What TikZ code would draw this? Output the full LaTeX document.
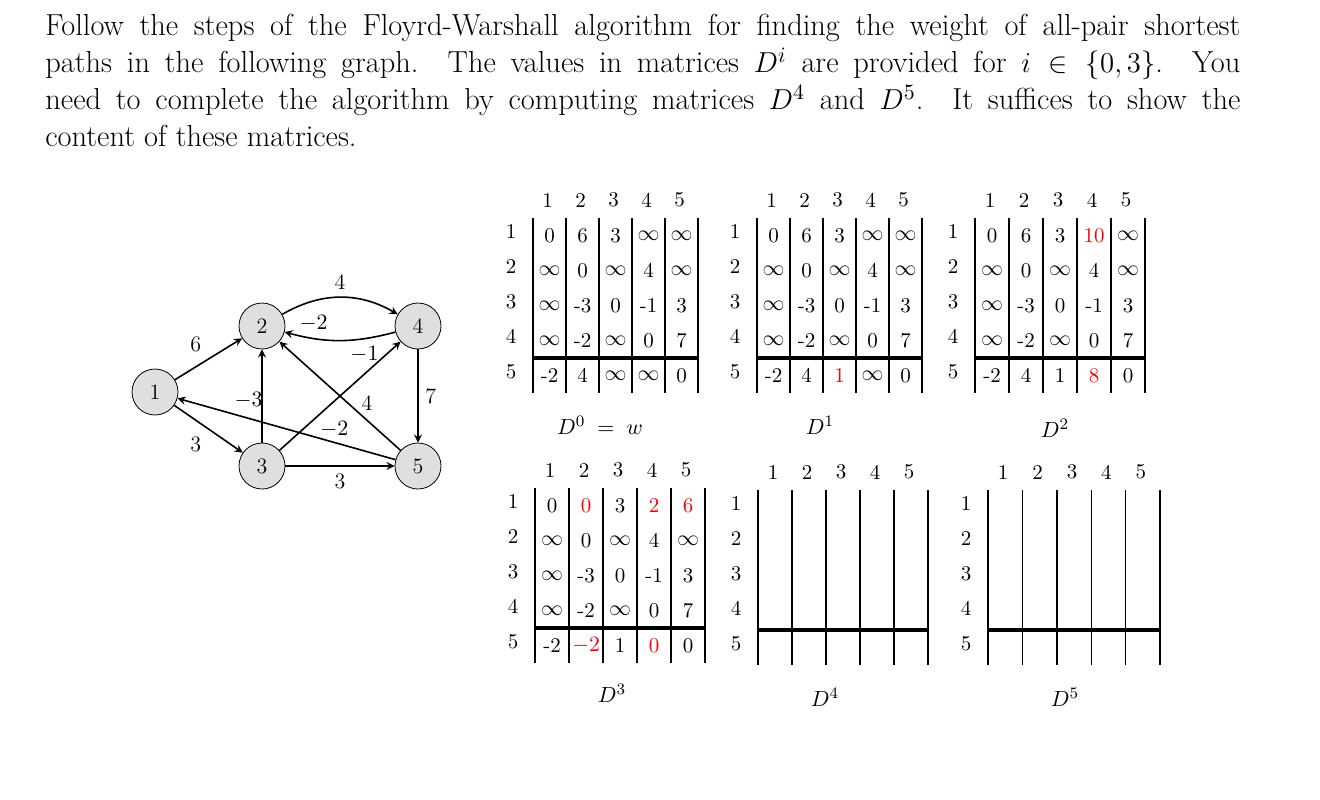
\documentclass[tikz,border=0pt]{standalone}
\usepackage{amsmath}
\begin{document}
\begin{tikzpicture}[x=0.5pt,y=-0.5pt,
  vert/.style={circle,draw,fill=gray!25,minimum size=23pt,inner sep=0pt,font=\fontsize{11}{13}\selectfont},
  edge/.style={-stealth,thick},
  elab/.style={font=\fontsize{11}{13}\selectfont},
  cell/.style={font=\fontsize{10.5}{12}\selectfont,inner sep=0pt},
  mcap/.style={font=\fontsize{11}{13}\selectfont}]
\useasboundingbox (0,0) rectangle (1320,799);
\node[anchor=north west,inner sep=0pt,text width=597.5pt,align=justify,font=\fontsize{15.2}{18.5}\selectfont] (txt) at (45,14)
{Follow the steps of the Floyrd-Warshall algorithm for finding the weight of all-pair shortest\linebreak
paths in the following graph. The values in matrices $D^i$ are provided for $i\in\{0,3\}$. You\linebreak
need to complete the algorithm by computing matrices $D^4$ and $D^5$. It suffices to show the\linebreak
content of these matrices.};
% graph
\node[vert] (n1) at (155,392) {1};
\node[vert] (n2) at (262,326) {2};
\node[vert] (n4) at (418,326) {4};
\node[vert] (n3) at (262,466) {3};
\node[vert] (n5) at (418,466) {5};
\draw[edge] (n1) -- node[elab,above left,pos=0.5]{6} (n2);
\draw[edge] (n1) -- node[elab,below left,pos=0.5]{3} (n3);
\draw[edge] (n2) to[bend left=30] node[elab,above]{4} (n4);
\draw[edge] (n4) to[bend left=15] node[elab,above,pos=0.75]{$-2$} (n2);
\draw[edge] (n3) -- node[elab,left,pos=0.45,xshift=4pt]{$-3$} (n2);
\draw[edge] (n3) -- node[elab,pos=0.78,above left,xshift=6pt,yshift=-2pt]{$-1$} (n4);
\draw[edge] (n5) -- node[elab,pos=0.3,above right,xshift=-5pt]{4} (n2);
\draw[edge] (n5) -- node[elab,pos=0.28,above,yshift=-1pt]{$-2$} (n1);
\draw[edge] (n4) -- node[elab,right]{7} (n5);
\draw[edge] (n3) -- node[elab,below]{3} (n5);
% matrices
\newcommand\fwmat[4]{% x0,y0,entries,cellwidth
  \begin{scope}[shift={(#1,#2)}]
  \foreach \c in {1,...,5}{
    \node[cell] at ({(\c-0.5)*#4-2},-18) {\c};
    \node[cell] at (-22,{(\c-0.5)*35-4}) {\c};}
  \draw[line width=0.7pt] (0,0) grid[xstep=#4,ystep=35] (5*#4,175);
  \draw[line width=1.6pt] (0,140) -- (5*#4,140);
  \foreach \v [count=\i from 0] in {#3}{
    \pgfmathtruncatemacro\r{int(\i/5)}
    \pgfmathtruncatemacro\cc{mod(\i,5)}
    \node[cell] at ({(\cc+0.5)*#4},{(\r+0.5)*35}) {\v};}
  \end{scope}}
\def\I{$\infty$}
\def\R#1{\textcolor{red}{#1}}
\fwmat{533}{218}{0,6,3,\I,\I, \I,0,\I,4,\I, \I,-3,0,-1,3, \I,-2,\I,0,7, -2,4,\I,\I,0}{33}
\fwmat{757}{218}{0,6,3,\I,\I, \I,0,\I,4,\I, \I,-3,0,-1,3, \I,-2,\I,0,7, -2,4,\R{1},\I,0}{33}
\fwmat{975}{218}{0,6,3,\R{10},\I, \I,0,\I,4,\I, \I,-3,0,-1,3, \I,-2,\I,0,7, -2,4,1,\R{8},0}{34}
\fwmat{535}{488}{0,\R{0},3,\R{2},\R{6}, \I,0,\I,4,\I, \I,-3,0,-1,3, \I,-2,\I,0,7, -2,\R{$-2$},1,\R{0},0}{34}
\fwmat{758}{490}{,,,,, ,,,,, ,,,,, ,,,,, ,,,,}{34}
\fwmat{988}{490}{,,,,, ,,,,, ,,,,, ,,,,, ,,,,}{34.4}
\node[mcap] (c0) at (600,425) {$D^0 \;=\; w$};
\node[mcap] (c1) at (820,425) {$D^1$};
\node[mcap] (c2) at (1055,428) {$D^2$};
\node[mcap] (c3) at (612,693) {$D^3$};
\node[mcap] (c4) at (825,697) {$D^4$};
\node[mcap] (c5) at (1065,697) {$D^5$};
\end{tikzpicture}
\end{document}
